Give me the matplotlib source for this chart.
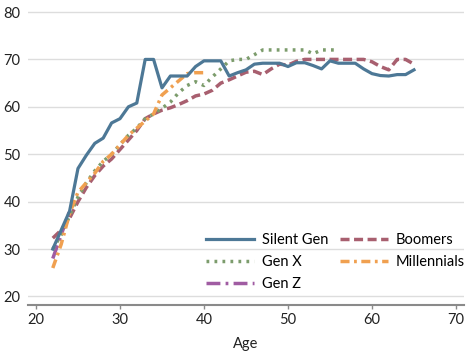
import matplotlib
matplotlib.use("Agg")
import matplotlib.pyplot as plt

plt.rcParams['font.family'] = ['Lato', 'DejaVu Sans']

ages_silent = list(range(22, 66))
silent = [30, 34, 38, 47, 49.8, 52.3, 53.4, 56.6, 57.5, 60, 60.8, 70, 70, 64, 66.5, 66.5,
          66.5, 68.5, 69.7, 69.7, 69.7, 66.5, 67.2, 67.8, 69, 69.2, 69.2, 69.2, 68.5, 69.3,
          69.3, 68.7, 68, 69.7, 69.2, 69.2, 69.2, 68, 67, 66.6, 66.5, 66.8, 66.8, 67.8]

ages_genx = list(range(22, 57))
genx = [30, 33, 37, 41, 44, 46.5, 48.5, 50, 52, 54, 55.5, 57.5, 58.5, 59.7, 61, 63, 64.5,
        65.3, 64.5, 66.3, 68, 69.7, 70, 70, 71, 72, 72, 72, 72, 72, 72, 71.2, 72, 72, 72]

ages_genz = [22, 23, 24]
genz = [28, 33, 38]

ages_boomers = list(range(22, 66))
boomers = [32.3, 34, 36.5, 40, 43, 45.5, 47.5, 49, 51, 53, 55, 57.5, 58.5, 59.3, 59.8, 60.5,
           61.3, 62.3, 62.7, 63.5, 65, 65.7, 66.5, 67.3, 67.5, 66.8, 68, 69, 68.8, 69.6, 70,
           70, 70, 70, 70, 70, 70, 70, 69.5, 68.5, 67.8, 70, 70, 69]

ages_mill = list(range(22, 41))
mill = [26, 31, 37.5, 42, 44, 46, 48.5, 50, 52, 54, 55.5, 57, 58.5, 62.5, 64, 65.5, 67,
        67.2, 67.2]

fig = plt.figure(figsize=(4.74, 3.53), dpi=100)
ax = fig.add_axes([0.0582, 0.136, 0.9215, 0.8434])

c_silent = '#4d7896'
c_genx = '#7c9c6c'
c_genz = '#a05ca2'
c_boom = '#a85f6f'
c_mill = '#f0a050'

ax.plot(ages_silent, silent, color=c_silent, lw=2.3, label='Silent Gen', zorder=5)
ax.plot(ages_genx, genx, color=c_genx, lw=2.5, ls=(0, (0.8, 1.5)), label='Gen X', zorder=4)
ax.plot(ages_genz, genz, color=c_genz, lw=2.5, ls=(0, (4, 1.5, 0.8, 1.5)), label='Gen Z', zorder=3)
ax.plot(ages_boomers, boomers, color=c_boom, lw=2.5, ls=(0, (2.6, 1.3)), label='Boomers', zorder=3)
ax.plot(ages_mill, mill, color=c_mill, lw=2.5, ls=(0, (2.6, 1.3, 0.8, 1.3)), label='Millennials', zorder=4)

ax.set_xlim(19, 71)
ax.set_ylim(18.2, 81)
ax.set_xticks([20, 30, 40, 50, 60, 70])
ax.set_yticks([20, 30, 40, 50, 60, 70, 80])
ax.grid(axis='y', color='#dddddd', lw=1)
ax.set_axisbelow(True)
for s in ['top', 'right', 'left']:
    ax.spines[s].set_visible(False)
ax.spines['bottom'].set_color('#8a8a8a')
ax.spines['bottom'].set_linewidth(1.5)
ax.tick_params(axis='y', length=0, pad=5, labelsize=10.5, labelcolor='#222222')
ax.tick_params(axis='x', length=3, color='#8a8a8a', width=1, pad=3, labelsize=10.5, labelcolor='#222222')
ax.set_xlabel('Age', fontsize=10.5, color='#222222', labelpad=7)

ax.legend(ncol=2, loc='lower right', bbox_to_anchor=(1.022, 0.016), frameon=False,
          fontsize=10.5, handlelength=3.3, handletextpad=0.55, columnspacing=0.8,
          labelspacing=0.55, borderaxespad=0.2)

fig.savefig('out.png', dpi=100)
